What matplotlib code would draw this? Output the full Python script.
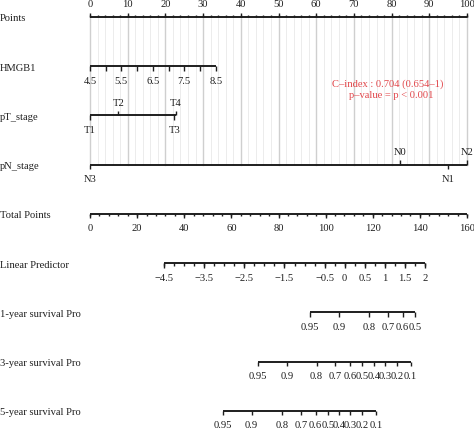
import numpy as np
import matplotlib
matplotlib.use("Agg")
import matplotlib.pyplot as plt

plt.rcParams['font.family'] = ['Liberation Serif', 'DejaVu Serif']

# row labels, top to bottom
row_names = ["Points", "HMGB1", "pT_stage", "pN_stage", "Total Points",
             "Linear Predictor", "1-year survival Pro", "3-year survival Pro",
             "5-year survival Pro"]

# HMGB1 values and their points
hmgb1_vals = [4.5, 5, 5.5, 6, 6.5, 7, 7.5, 8, 8.5]
hmgb1_lab = ["4.5", "", "5.5", "", "6.5", "", "7.5", "", "8.5"]
hmgb1_pts = [0, 4.2, 8.3, 12.5, 16.7, 20.9, 25.0, 29.2, 33.4]

# pT stage points (label, points, above?)
pt_lab = ["T1", "T2", "T3", "T4"]
pt_pts = [0, 7.5, 22.4, 22.7]
pt_up = [False, True, False, True]

# pN stage points
pn_lab = ["N3", "N0", "N1", "N2"]
pn_pts = [0, 82.2, 94.9, 100]
pn_up = [False, True, False, True]

# linear predictor ticks and total points at its ends
lp_ticks = [-4.5, -3.5, -2.5, -1.5, -0.5, 0, 0.5, 1, 1.5, 2]
lp_lo, lp_hi = -4.5, 2.0
lp_tp_lo, lp_tp_hi = 31.4, 142.2

# survival probability scales (label -> total points)
s1_lab = ["0.95", "0.9", "0.8", "0.7", "0.6", "0.5"]
s1_tp = [93.4, 105.7, 118.4, 126.5, 132.7, 137.9]
s3_lab = ["0.95", "0.9", "0.8", "0.7", "0.6", "0.5", "0.4", "0.3", "0.2", "0.1"]
s3_tp = [71.2, 83.5, 96.2, 104.1, 110.4, 115.6, 120.4, 125.3, 130.2, 136.1]
s5_lab = ["0.95", "0.9", "0.8", "0.7", "0.6", "0.5", "0.4", "0.3", "0.2", "0.1"]
s5_tp = [56.5, 68.6, 81.6, 89.6, 95.8, 100.9, 105.6, 110.4, 115.4, 121.4]

total_max = 160
cindex_txt = "C\u2013index : 0.704 (0.654\u20131)"
pval_txt = "p\u2013value = p < 0.001"

W, H = 474, 432
fig = plt.figure(figsize=(W / 100, H / 100), dpi=100)
ax = fig.add_axes([0, 0, 1, 1])
# x in points units: 0 -> 90px, 100 -> 467px
ppx = 377 / 100
ax.set_xlim(-90 / ppx, (W - 90) / ppx)
row_gap = 49.25
ax.set_ylim((H - 17) / row_gap, -17 / row_gap)
ax.axis('off')

fs = 7.6
lc = '#1e1e1e'
lw = 1.4
tk = 0.09   # major tick length in row units
mtk = 0.05
off_up = 0.25
off_dn = 0.30


def tp2pt(tp):
    return np.asarray(tp, dtype=float) * 100 / total_max


def axis_line(row, x0, x1):
    ax.plot([x0, x1], [row, row], color=lc, lw=lw, solid_capstyle='butt')


def ticks(row, xs, up=False, length=tk):
    for x in np.atleast_1d(xs):
        d = -length if up else length
        ax.plot([x, x], [row, row + d], color=lc, lw=1.0, solid_capstyle='butt')


def labels(row, xs, labs, up=False):
    for x, t in zip(xs, labs):
        if t:
            ax.text(x, row - off_up if up else row + off_dn, t, ha='center',
                    va='center', fontsize=fs, color=lc)


# row names
for i, name in enumerate(row_names):
    ax.text(-90 / ppx, i + 0.04, name, ha='left', va='center', fontsize=fs, color=lc)

# grid lines
for g in np.arange(0, 101, 2):
    major = g % 10 == 0
    ax.plot([g, g], [0, 3], color='#cfcfcf' if major else '#ececec',
            lw=1.0 if major else 0.7, zorder=0)

# Points
axis_line(0, 0, 100)
ticks(0, np.arange(0, 101, 10), up=True)
ticks(0, np.arange(0, 101, 2), up=True, length=mtk)
labels(0, np.arange(0, 101, 10), [str(v) for v in range(0, 101, 10)], up=True)

# HMGB1
axis_line(1, hmgb1_pts[0], hmgb1_pts[-1])
ticks(1, hmgb1_pts)
labels(1, hmgb1_pts, hmgb1_lab)

# pT stage
axis_line(2, min(pt_pts), max(pt_pts))
for p, t, u in zip(pt_pts, pt_lab, pt_up):
    ticks(2, [p], up=u)
    labels(2, [p], [t], up=u)

# pN stage
axis_line(3, min(pn_pts), max(pn_pts))
for p, t, u in zip(pn_pts, pn_lab, pn_up):
    ticks(3, [p], up=u)
    labels(3, [p], [t], up=u)

# Total points
axis_line(4, 0, 100)
tmaj = np.arange(0, total_max + 1, 20)
ticks(4, tp2pt(tmaj))
ticks(4, tp2pt(np.arange(0, total_max + 1, 4)), length=mtk)
labels(4, tp2pt(tmaj), [str(v) for v in tmaj])


def lp2pt(lp):
    lp = np.asarray(lp, dtype=float)
    return tp2pt(lp_tp_lo + (lp - lp_lo) * (lp_tp_hi - lp_tp_lo) / (lp_hi - lp_lo))


# Linear predictor
axis_line(5, lp2pt(lp_lo), lp2pt(lp_hi))
ticks(5, lp2pt(lp_ticks))
ticks(5, lp2pt(np.arange(lp_lo, lp_hi + 0.01, 0.25)), length=mtk)
labels(5, lp2pt(lp_ticks), ["\u2212" + f"{abs(v):g}" if v < 0 else f"{v:g}" for v in lp_ticks])

# survival rows
for row, labs, tps in [(6, s1_lab, s1_tp), (7, s3_lab, s3_tp), (8, s5_lab, s5_tp)]:
    xs = tp2pt(tps)
    axis_line(row, xs[0], xs[-1])
    ticks(row, xs)
    labels(row, xs, labs)

# annotation
red = '#e2474b'
ax.text(79.0, 1.36, cindex_txt, ha='center', va='center', fontsize=fs, color=red)
ax.text(79.8, 1.59, pval_txt, ha='center', va='center', fontsize=fs, color=red)

fig.savefig("out.png", dpi=100)
